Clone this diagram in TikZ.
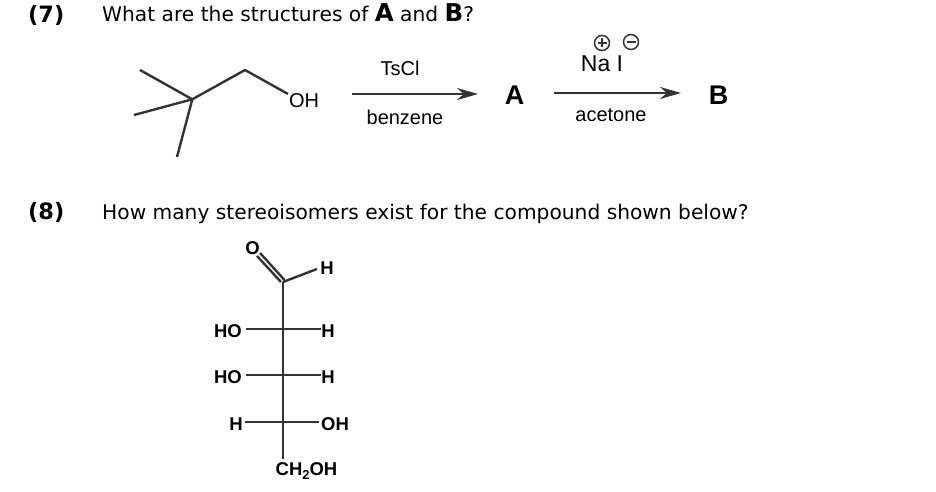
\documentclass[tikz,border=0pt]{standalone}
\usepackage{fontspec}
\setmainfont{Liberation Sans}
\newfontfamily\qfont{DejaVu Sans}
\usetikzlibrary{arrows.meta}
\definecolor{bondc}{HTML}{333333}
\newcommand{\bigL}[1]{{\bfseries\fontsize{24.5}{24}\selectfont #1}}
\tikzset{
 qtext/.style={inner sep=0pt,anchor=west,text=black,font=\qfont\fontsize{20.2}{24}\selectfont},
 qnum/.style={inner sep=0pt,anchor=west,text=black,font=\qfont\bfseries\fontsize{22.5}{24}\selectfont},
 chem/.style={inner sep=0pt,text=black,font=\fontsize{20}{22}\selectfont},
 chemb/.style={inner sep=0pt,text=black,font=\bfseries\fontsize{18.5}{22}\selectfont},
 big/.style={inner sep=0pt,text=black,font=\bfseries\fontsize{27}{30}\selectfont},
 bond/.style={draw=bondc,line width=2.4pt},
 rxn/.style={draw=bondc,line width=2.4pt,-{Stealth[length=21pt,width=12pt]}},
 ion/.style={draw=bondc,line width=1.5pt,circle,minimum size=15pt,inner sep=0pt},
}
\begin{document}
\begin{tikzpicture}[x=1pt,y=-1pt]
\useasboundingbox (0,0) rectangle (936,492);
\fill[white] (0,0) rectangle (936,492);
\node[qnum] (q7) at (28,15) {(7)};
\node[qtext,anchor=base west] (t7) at (102,22) {What are the structures of \bigL{A} and \bigL{B}?};
\node[qnum] (q8) at (28,212) {(8)};
\node[qtext] (t8) at (102,213.5) {How many stereoisomers exist for the compound shown below?};
% molecule
\coordinate (c1) at (192.3,99.3);
\coordinate (me1) at (140,70);
\coordinate (me2) at (134,115);
\coordinate (me3) at (177,157);
\coordinate (c2) at (245,70);
\coordinate (ohe) at (288,94);
\node[chem] (oh) at (304,101) {OH};
\draw[bond] (me1)--(c1) (me2)--(c1) (me3)--(c1);
\draw[bond,line join=round] (c1)--(c2)--(ohe);
% reaction
\node[chem] (ts) at (400,68) {TsCl};
\node[chem] (bz) at (405,117) {benzene};
\node[big] (A) at (514.5,95) {A};
\node[big] (B) at (718.5,95) {B};
\coordinate (a1s) at (352,94);
\coordinate (a1e) at (478,94);
\coordinate (a2s) at (554,93);
\coordinate (a2e) at (681,93);
\draw[rxn] (a1s)--(a1e);
\draw[rxn] (a2s)--(a2e);
\node[chem,font=\fontsize{23}{24}\selectfont] (nai) at (602,64) {Na I};
\node[chem] (ac) at (611,115) {acetone};
\node[ion] (plus) at (602,43) {};
\node[ion] (minus) at (631,42) {};
\draw[bondc,line width=1.4pt] (plus.center)++(-4.5,0)--++(9,0) (plus.center)++(0,-4.5)--++(0,9);
\draw[bondc,line width=1.4pt] (minus.center)++(-4.5,0)--++(9,0);
% Fischer
\coordinate (f0) at (283,282);
\coordinate (f1) at (283,329);
\coordinate (f2) at (283,375);
\coordinate (f3) at (283,422);
\coordinate (fe) at (283,459);
\node[chemb] (O) at (252.5,248) {O};
\node[chemb] (h0) at (327,268) {H};
\node[chemb] (ho1) at (228,331) {HO};
\node[chemb] (h1) at (328,331) {H};
\node[chemb] (ho2) at (228,377) {HO};
\node[chemb] (h2) at (328,377) {H};
\node[chemb] (h3) at (236,424) {H};
\node[chemb] (oh3) at (335,424) {OH};
\node[chemb] (ch) at (306.5,471) {CH\raisebox{-4pt}{\fontsize{13}{14}\selectfont 2}OH};
\coordinate (db1s) at (281,282);
\coordinate (db1e) at (257,256);
\coordinate (db2s) at (284.5,280);
\coordinate (db2e) at (260,253);
\draw[bond] (db1s)--(db1e) (db2s)--(db2e);
\coordinate (h0e) at (317,269);
\draw[bond] (f0)--(h0e);
\draw[bond] (f0)--(fe);
\coordinate (l1) at (246,329); \coordinate (r1) at (321,329);
\coordinate (l2) at (246,375); \coordinate (r2) at (321,375);
\coordinate (l3) at (245,422); \coordinate (r3) at (319,422);
\draw[bond] (l1)--(r1) (l2)--(r2) (l3)--(r3);
\end{tikzpicture}
\end{document}
